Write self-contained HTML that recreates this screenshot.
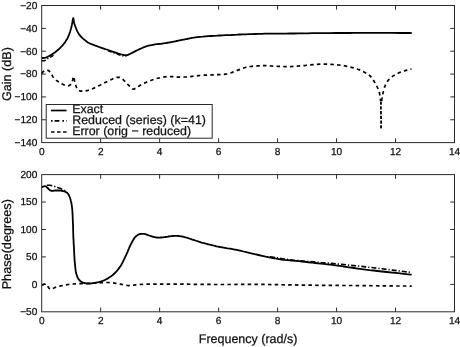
<!DOCTYPE html>
<html><head><meta charset="utf-8"><title>Bode plot</title>
<style>html,body{margin:0;padding:0;background:#fff}svg{display:block}</style></head>
<body>
<svg width="460" height="347" viewBox="0 0 460 347">
<rect width="460" height="347" fill="#fff"/>
<g font-family="'Liberation Sans', Arial, sans-serif" fill="#111" stroke="#111" stroke-width="0.25" text-rendering="geometricPrecision">
<rect x="41.7" y="5.5" width="412.8" height="137.1" fill="none" stroke="#2a2a2a" stroke-width="1"/>
<text x="37.3" y="8.8" font-size="10.1" text-anchor="end">−20</text>
<path d="M41.7,28.35h4.2M454.5,28.35h-4.2" stroke="#2a2a2a" stroke-width="1" fill="none"/>
<text x="37.3" y="31.6" font-size="10.1" text-anchor="end">−40</text>
<path d="M41.7,51.20h4.2M454.5,51.20h-4.2" stroke="#2a2a2a" stroke-width="1" fill="none"/>
<text x="37.3" y="54.5" font-size="10.1" text-anchor="end">−60</text>
<path d="M41.7,74.05h4.2M454.5,74.05h-4.2" stroke="#2a2a2a" stroke-width="1" fill="none"/>
<text x="37.3" y="77.3" font-size="10.1" text-anchor="end">−80</text>
<path d="M41.7,96.90h4.2M454.5,96.90h-4.2" stroke="#2a2a2a" stroke-width="1" fill="none"/>
<text x="37.3" y="100.2" font-size="10.1" text-anchor="end">−100</text>
<path d="M41.7,119.75h4.2M454.5,119.75h-4.2" stroke="#2a2a2a" stroke-width="1" fill="none"/>
<text x="37.3" y="123.0" font-size="10.1" text-anchor="end">−120</text>
<text x="37.3" y="145.9" font-size="10.1" text-anchor="end">−140</text>
<text x="41.7" y="155.0" font-size="10.1" text-anchor="middle">0</text>
<path d="M100.67,5.5v4.2M100.67,142.6v-4.2" stroke="#2a2a2a" stroke-width="1" fill="none"/>
<text x="100.7" y="155.0" font-size="10.1" text-anchor="middle">2</text>
<path d="M159.64,5.5v4.2M159.64,142.6v-4.2" stroke="#2a2a2a" stroke-width="1" fill="none"/>
<text x="159.6" y="155.0" font-size="10.1" text-anchor="middle">4</text>
<path d="M218.61,5.5v4.2M218.61,142.6v-4.2" stroke="#2a2a2a" stroke-width="1" fill="none"/>
<text x="218.6" y="155.0" font-size="10.1" text-anchor="middle">6</text>
<path d="M277.59,5.5v4.2M277.59,142.6v-4.2" stroke="#2a2a2a" stroke-width="1" fill="none"/>
<text x="277.6" y="155.0" font-size="10.1" text-anchor="middle">8</text>
<path d="M336.56,5.5v4.2M336.56,142.6v-4.2" stroke="#2a2a2a" stroke-width="1" fill="none"/>
<text x="336.6" y="155.0" font-size="10.1" text-anchor="middle">10</text>
<path d="M395.53,5.5v4.2M395.53,142.6v-4.2" stroke="#2a2a2a" stroke-width="1" fill="none"/>
<text x="395.5" y="155.0" font-size="10.1" text-anchor="middle">12</text>
<text x="454.5" y="155.0" font-size="10.1" text-anchor="middle">14</text>
<rect x="41.7" y="174.6" width="412.8" height="137.20000000000002" fill="none" stroke="#2a2a2a" stroke-width="1"/>
<text x="37.3" y="177.9" font-size="10.1" text-anchor="end">200</text>
<path d="M41.7,202.04h4.2M454.5,202.04h-4.2" stroke="#2a2a2a" stroke-width="1" fill="none"/>
<text x="37.3" y="205.3" font-size="10.1" text-anchor="end">150</text>
<path d="M41.7,229.48h4.2M454.5,229.48h-4.2" stroke="#2a2a2a" stroke-width="1" fill="none"/>
<text x="37.3" y="232.8" font-size="10.1" text-anchor="end">100</text>
<path d="M41.7,256.92h4.2M454.5,256.92h-4.2" stroke="#2a2a2a" stroke-width="1" fill="none"/>
<text x="37.3" y="260.2" font-size="10.1" text-anchor="end">50</text>
<path d="M41.7,284.36h4.2M454.5,284.36h-4.2" stroke="#2a2a2a" stroke-width="1" fill="none"/>
<text x="37.3" y="287.7" font-size="10.1" text-anchor="end">0</text>
<text x="37.3" y="315.1" font-size="10.1" text-anchor="end">−50</text>
<text x="41.7" y="324.1" font-size="10.1" text-anchor="middle">0</text>
<path d="M100.67,174.6v4.2M100.67,311.8v-4.2" stroke="#2a2a2a" stroke-width="1" fill="none"/>
<text x="100.7" y="324.1" font-size="10.1" text-anchor="middle">2</text>
<path d="M159.64,174.6v4.2M159.64,311.8v-4.2" stroke="#2a2a2a" stroke-width="1" fill="none"/>
<text x="159.6" y="324.1" font-size="10.1" text-anchor="middle">4</text>
<path d="M218.61,174.6v4.2M218.61,311.8v-4.2" stroke="#2a2a2a" stroke-width="1" fill="none"/>
<text x="218.6" y="324.1" font-size="10.1" text-anchor="middle">6</text>
<path d="M277.59,174.6v4.2M277.59,311.8v-4.2" stroke="#2a2a2a" stroke-width="1" fill="none"/>
<text x="277.6" y="324.1" font-size="10.1" text-anchor="middle">8</text>
<path d="M336.56,174.6v4.2M336.56,311.8v-4.2" stroke="#2a2a2a" stroke-width="1" fill="none"/>
<text x="336.6" y="324.1" font-size="10.1" text-anchor="middle">10</text>
<path d="M395.53,174.6v4.2M395.53,311.8v-4.2" stroke="#2a2a2a" stroke-width="1" fill="none"/>
<text x="395.5" y="324.1" font-size="10.1" text-anchor="middle">12</text>
<text x="454.5" y="324.1" font-size="10.1" text-anchor="middle">14</text>
<text transform="translate(10.5,74.1) rotate(-90)" font-size="12.6" text-anchor="middle">Gain (dB)</text>
<text transform="translate(10.5,244.2) rotate(-90)" font-size="12.7" text-anchor="middle">Phase(degrees)</text>
<text x="248.1" y="342.7" font-size="12.5" text-anchor="middle">Frequency (rad/s)</text>
</g>
<g fill="none" stroke="#000" stroke-linejoin="round">
<path d="M41.8,60.8 L42.1,60.8 L42.5,60.8 L42.9,60.8 L43.5,60.8 L44.0,60.7 L44.5,60.6 L45.0,60.4 L45.5,60.1 L46.1,59.7 L46.7,59.3 L47.2,59.0 L47.8,58.6 L48.4,58.3 L49.0,57.9 L49.6,57.6 L50.2,57.3 L50.8,56.9 L51.3,56.6 L51.8,56.3 L52.4,55.9 L52.9,55.6 L53.3,55.3 L53.7,55.0 L54.0,54.8" stroke-width="1.6" stroke-dasharray="4 2 1.2 2"/>
<path d="M108.0,50.7 L108.9,51.0 L110.1,51.5 L111.6,52.1 L113.1,52.6 L114.6,53.2 L116.0,53.7 L117.3,54.1 L118.5,54.6 L119.8,55.0 L121.0,55.3 L122.0,55.7 L123.0,55.9 L123.8,56.1 L124.6,56.2 L125.2,56.2 L125.7,56.2 L126.2,56.2 L126.5,56.2" stroke-width="1.5" stroke-dasharray="4 2 1.2 2"/>
<path d="M41.8,58.1 L42.1,58.1 L42.6,58.0 L43.2,58.0 L43.8,57.9 L44.4,57.9 L44.9,57.8 L45.3,57.7 L45.7,57.6 L46.1,57.5 L46.5,57.3 L46.8,57.2 L47.2,57.0 L47.6,56.8 L47.9,56.6 L48.3,56.5 L48.7,56.3 L49.1,56.0 L49.5,55.8 L49.9,55.5 L50.4,55.3 L50.9,55.0 L51.4,54.7 L51.9,54.4 L52.4,54.1 L52.9,53.8 L53.4,53.5 L53.8,53.1 L54.3,52.8 L54.8,52.5 L55.3,52.1 L55.8,51.7 L56.3,51.3 L56.8,50.9 L57.2,50.5 L57.7,50.1 L58.2,49.7 L58.7,49.3 L59.2,48.8 L59.6,48.4 L60.1,47.9 L60.6,47.5 L61.0,47.0 L61.4,46.5 L61.9,46.1 L62.3,45.6 L62.7,45.2 L63.1,44.7 L63.5,44.2 L63.9,43.7 L64.3,43.1 L64.7,42.6 L65.1,42.1 L65.5,41.5 L65.8,41.0 L66.1,40.5 L66.4,40.1 L66.7,39.6 L67.0,39.2 L67.2,38.7 L67.5,38.2 L67.8,37.6 L68.1,36.9 L68.4,36.2 L68.7,35.5 L69.0,34.8 L69.2,34.2 L69.4,33.6 L69.6,33.1 L69.8,32.6 L69.9,32.1 L70.1,31.6 L70.3,31.0 L70.5,30.3 L70.7,29.6 L70.9,28.9 L71.1,28.1 L71.3,27.3 L71.5,26.6 L71.7,25.9 L71.8,25.1 L72.0,24.4 L72.1,23.6 L72.3,22.9 L72.4,22.2 L72.5,21.4 L72.7,20.5 L72.8,19.6 L72.9,18.8 L73.1,18.3 L73.2,18.1 L73.3,18.4 L73.5,19.1 L73.7,20.0 L73.8,21.1 L74.0,22.1 L74.2,23.0 L74.4,23.8 L74.7,24.5 L74.9,25.3 L75.2,26.0 L75.4,26.7 L75.7,27.4 L75.9,28.0 L76.2,28.7 L76.4,29.3 L76.7,29.9 L76.9,30.4 L77.2,31.0 L77.5,31.6 L77.8,32.1 L78.1,32.7 L78.4,33.2 L78.7,33.7 L79.1,34.3 L79.5,34.9 L80.0,35.5 L80.5,36.0 L81.0,36.6 L81.5,37.2 L82.0,37.7 L82.5,38.2 L83.0,38.7 L83.6,39.1 L84.1,39.5 L84.7,40.0 L85.2,40.4 L85.7,40.8 L86.3,41.3 L86.8,41.7 L87.4,42.1 L87.9,42.4 L88.5,42.8 L89.0,43.1 L89.5,43.3 L90.0,43.5 L90.6,43.8 L91.3,44.0 L92.2,44.4 L93.4,44.8 L94.7,45.4 L96.2,45.9 L97.8,46.5 L99.4,47.1 L100.9,47.6 L102.4,48.1 L103.8,48.6 L105.2,49.1 L106.7,49.5 L108.2,50.0 L109.6,50.5 L111.1,51.0 L112.6,51.6 L114.2,52.1 L115.7,52.6 L117.1,53.1 L118.3,53.5 L119.3,53.8 L120.2,54.1 L121.0,54.3 L121.7,54.5 L122.3,54.7 L123.0,54.8 L123.7,54.9 L124.3,55.1 L124.9,55.1 L125.4,55.2 L126.0,55.2 L126.5,55.2 L127.0,55.1 L127.5,55.0 L128.0,54.8 L128.5,54.6 L129.0,54.4 L129.5,54.2 L130.0,54.0 L130.4,53.8 L130.8,53.6 L131.3,53.3 L131.9,53.0 L132.6,52.6 L133.5,52.1 L134.6,51.6 L135.8,50.9 L137.1,50.3 L138.3,49.7 L139.6,49.1 L140.9,48.5 L142.1,48.0 L143.4,47.4 L144.8,46.9 L146.1,46.4 L147.4,46.0 L148.7,45.6 L150.0,45.3 L151.4,45.1 L152.7,44.8 L153.9,44.6 L155.2,44.4 L156.4,44.2 L157.5,44.1 L158.6,44.0 L159.8,43.9 L160.9,43.8 L162.2,43.6 L163.6,43.4 L165.0,43.2 L166.4,43.0 L167.9,42.7 L169.4,42.5 L170.9,42.2 L172.4,41.9 L173.8,41.6 L175.3,41.3 L176.8,41.0 L178.2,40.7 L179.6,40.4 L180.9,40.1 L182.1,39.9 L183.3,39.7 L184.5,39.5 L185.7,39.2 L187.0,39.0 L188.3,38.7 L189.5,38.5 L190.7,38.2 L192.0,37.9 L193.6,37.7 L195.4,37.4 L197.6,37.1 L200.0,36.9 L202.7,36.7 L205.5,36.4 L208.3,36.2 L211.1,36.0 L213.9,35.8 L216.8,35.7 L219.7,35.5 L222.6,35.4 L225.6,35.2 L228.5,35.1 L231.4,35.0 L234.2,34.8 L237.1,34.7 L240.0,34.5 L242.9,34.4 L245.9,34.3 L249.0,34.2 L252.1,34.1 L255.2,34.0 L258.4,33.9 L261.7,33.8 L265.0,33.7 L268.3,33.7 L271.7,33.6 L275.1,33.6 L278.6,33.6 L282.2,33.6 L286.0,33.6 L290.0,33.5 L294.2,33.5 L298.6,33.4 L303.0,33.3 L307.5,33.3 L312.0,33.2 L316.5,33.2 L321.1,33.1 L325.8,33.1 L330.4,33.1 L335.2,33.0 L340.0,33.0 L344.7,33.0 L349.4,33.0 L354.1,32.9 L359.1,32.9 L364.3,32.9 L370.0,32.9 L376.8,32.9 L384.6,32.9 L392.7,32.9 L400.5,33.0 L407.0,33.0 L411.7,33.0" stroke-width="1.8"/>
<path d="M41.8,73.5 L42.0,73.3 L42.2,72.9 L42.4,72.6 L42.7,72.2 L43.0,71.8 L43.3,71.5 L43.6,71.3 L43.8,71.1 L44.1,70.9 L44.4,70.8 L44.7,70.7 L45.0,70.6 L45.4,70.5 L45.8,70.4 L46.2,70.3 L46.7,70.3 L47.1,70.3 L47.5,70.3 L47.8,70.4 L48.1,70.4 L48.4,70.6 L48.7,70.7 L49.0,70.9 L49.3,71.2 L49.6,71.5 L49.9,72.0 L50.2,72.4 L50.5,72.9 L50.8,73.5 L51.2,74.0 L51.6,74.6 L52.0,75.2 L52.4,75.9 L52.8,76.6 L53.2,77.2 L53.7,77.8 L54.2,78.4 L54.7,78.9 L55.3,79.4 L55.8,79.9 L56.4,80.4 L57.0,80.8 L57.6,81.2 L58.2,81.6 L58.8,82.0 L59.4,82.3 L60.0,82.7 L60.6,83.0 L61.2,83.3 L61.7,83.7 L62.2,84.0 L62.8,84.3 L63.3,84.6 L63.8,84.8 L64.3,85.0 L64.8,85.2 L65.3,85.4 L65.8,85.5 L66.3,85.6 L66.7,85.7 L67.1,85.8 L67.5,85.8 L67.9,85.8 L68.3,85.8 L68.6,85.7 L69.0,85.6 L69.4,85.4 L69.7,85.2 L70.0,85.0 L70.4,84.7 L70.7,84.3 L71.0,83.9 L71.3,83.4 L71.6,82.9 L71.8,82.3 L72.1,81.7 L72.3,81.1 L72.5,80.5 L72.7,79.8 L72.9,79.0 L73.0,78.1 L73.2,77.3 L73.4,76.8 L73.5,76.5 L73.6,76.6 L73.8,76.9 L73.9,77.5 L74.0,78.1 L74.2,78.8 L74.3,79.5 L74.5,80.2 L74.6,80.9 L74.8,81.7 L75.0,82.5 L75.2,83.2 L75.4,83.9 L75.6,84.5 L75.8,85.1 L75.9,85.7 L76.1,86.2 L76.3,86.7 L76.5,87.2 L76.7,87.7 L77.0,88.1 L77.2,88.6 L77.4,89.0 L77.7,89.4 L78.0,89.7 L78.3,90.0 L78.6,90.2 L79.0,90.4 L79.3,90.6 L79.6,90.8 L80.0,90.9 L80.3,91.0 L80.7,91.1 L81.0,91.2 L81.4,91.2 L81.8,91.2 L82.3,91.2 L82.8,91.2 L83.4,91.1 L84.0,91.1 L84.7,91.0 L85.3,90.9 L86.0,90.8 L86.6,90.7 L87.2,90.6 L87.8,90.5 L88.4,90.3 L89.2,90.1 L90.2,89.7 L91.4,89.2 L92.8,88.6 L94.3,87.9 L95.8,87.2 L97.4,86.4 L98.9,85.7 L100.4,85.0 L102.0,84.2 L103.5,83.4 L105.0,82.6 L106.4,81.9 L107.6,81.3 L108.6,80.8 L109.4,80.4 L110.1,80.1 L110.8,79.8 L111.4,79.5 L112.0,79.2 L112.6,78.9 L113.2,78.6 L113.8,78.4 L114.4,78.2 L114.9,78.0 L115.5,77.8 L116.1,77.6 L116.6,77.5 L117.1,77.4 L117.7,77.3 L118.2,77.3 L118.7,77.3 L119.2,77.4 L119.7,77.4 L120.2,77.6 L120.6,77.8 L121.1,78.0 L121.5,78.2 L121.9,78.5 L122.3,78.8 L122.7,79.2 L123.1,79.6 L123.5,80.0 L123.9,80.4 L124.3,80.8 L124.8,81.2 L125.2,81.7 L125.6,82.1 L126.1,82.6 L126.5,83.0 L126.9,83.4 L127.4,83.9 L127.8,84.4 L128.2,84.8 L128.7,85.3 L129.1,85.7 L129.5,86.1 L129.9,86.5 L130.3,87.0 L130.7,87.3 L131.1,87.7 L131.5,88.0 L131.8,88.3 L132.2,88.5 L132.5,88.8 L132.8,89.0 L133.1,89.1 L133.5,89.1 L133.9,89.0 L134.4,88.9 L134.9,88.6 L135.5,88.4 L136.0,88.1 L136.5,87.8 L137.0,87.5 L137.4,87.2 L137.8,86.9 L138.2,86.6 L138.8,86.2 L139.6,85.7 L140.6,85.1 L141.9,84.5 L143.2,83.8 L144.6,83.1 L146.0,82.4 L147.4,81.8 L148.7,81.3 L150.0,80.7 L151.4,80.3 L152.7,79.8 L153.9,79.4 L155.2,79.0 L156.4,78.6 L157.6,78.3 L158.8,78.0 L159.9,77.8 L161.0,77.5 L162.2,77.3 L163.3,77.1 L164.4,76.9 L165.4,76.8 L166.5,76.7 L167.7,76.6 L169.1,76.6 L170.6,76.6 L172.3,76.7 L174.1,76.8 L176.0,77.0 L177.8,77.1 L179.6,77.1 L181.3,77.1 L183.0,77.0 L184.7,77.0 L186.4,76.9 L188.2,76.7 L190.0,76.6 L192.0,76.4 L194.1,76.2 L196.2,75.9 L198.4,75.7 L200.5,75.5 L202.4,75.3 L204.2,75.2 L205.9,75.1 L207.5,75.0 L209.0,75.0 L210.5,75.0 L212.0,74.9 L213.4,74.9 L214.7,74.8 L216.0,74.8 L217.2,74.7 L218.5,74.7 L219.8,74.6 L221.2,74.5 L222.6,74.4 L224.1,74.3 L225.6,74.1 L227.0,73.9 L228.5,73.6 L229.9,73.2 L231.4,72.7 L232.8,72.1 L234.3,71.5 L235.8,71.0 L237.2,70.4 L238.6,69.9 L240.1,69.3 L241.5,68.7 L243.0,68.2 L244.4,67.7 L245.9,67.3 L247.3,67.0 L248.7,66.7 L250.1,66.5 L251.6,66.4 L253.1,66.2 L254.6,66.1 L256.2,66.0 L257.9,65.9 L259.6,65.8 L261.3,65.7 L263.1,65.7 L265.0,65.7 L267.0,65.7 L269.0,65.8 L271.1,66.0 L273.2,66.1 L275.3,66.2 L277.4,66.3 L279.4,66.4 L281.4,66.5 L283.4,66.5 L285.4,66.6 L287.5,66.6 L289.6,66.6 L291.8,66.5 L294.1,66.4 L296.4,66.2 L298.8,66.0 L301.2,65.8 L303.5,65.6 L305.8,65.4 L308.2,65.1 L310.6,64.9 L312.9,64.6 L315.2,64.4 L317.4,64.3 L319.6,64.2 L321.7,64.2 L323.7,64.2 L325.7,64.2 L327.7,64.2 L329.6,64.3 L331.5,64.4 L333.4,64.5 L335.2,64.7 L336.9,64.9 L338.5,65.0 L340.0,65.2 L341.2,65.3 L342.2,65.4 L343.0,65.5 L343.8,65.7 L344.8,65.8 L346.0,66.1 L347.6,66.5 L349.4,66.9 L351.4,67.4 L353.4,67.9 L355.2,68.5 L356.7,68.9 L357.9,69.3 L358.9,69.6 L359.7,69.9 L360.4,70.3 L361.2,70.6 L362.0,71.0 L362.9,71.4 L363.9,71.9 L364.9,72.4 L365.9,73.0 L366.8,73.5 L367.6,74.0 L368.3,74.5 L368.9,74.9 L369.5,75.4 L370.0,75.8 L370.6,76.4 L371.2,77.1 L371.9,77.9 L372.5,78.9 L373.2,79.9 L373.9,81.0 L374.6,82.1 L375.2,83.1 L375.8,84.1 L376.3,85.1 L376.8,86.1 L377.3,87.2 L377.8,88.2 L378.2,89.2 L378.6,90.2 L378.9,91.2 L379.2,92.2 L379.5,93.2 L379.7,94.2 L379.9,95.2 L380.1,96.2 L380.2,97.4 L380.4,98.5 L380.5,99.5 L380.5,100.4 L380.6,101.0" stroke-width="1.7" stroke-dasharray="3.5 3.25"/>
<path d="M381.6,101.0 L381.7,100.5 L381.8,99.8 L381.9,99.0 L382.0,98.1 L382.1,97.1 L382.3,96.2 L382.5,95.3 L382.7,94.3 L382.9,93.3 L383.1,92.3 L383.4,91.3 L383.7,90.2 L384.0,89.1 L384.4,87.8 L384.8,86.6 L385.3,85.4 L385.8,84.2 L386.3,83.1 L386.9,82.1 L387.5,81.2 L388.1,80.4 L388.8,79.6 L389.5,78.9 L390.3,78.1 L391.2,77.3 L392.2,76.6 L393.2,75.9 L394.3,75.2 L395.3,74.6 L396.4,74.0 L397.4,73.5 L398.5,73.0 L399.5,72.5 L400.6,72.1 L401.8,71.7 L403.0,71.3 L404.4,70.9 L406.0,70.4 L407.7,70.0 L409.2,69.6 L410.6,69.2 L411.5,69.0" stroke-width="1.7" stroke-dasharray="3.5 3.25"/>
<path d="M381,101.5C380.6,110 381.4,118 381,128.4" stroke-width="1.8" stroke-dasharray="3.3 1.5"/>
<path d="M41.8,187.4 L42.0,187.3 L42.2,187.1 L42.5,186.9 L42.8,186.7 L43.2,186.5 L43.5,186.3 L43.8,186.1 L44.2,186.0 L44.6,185.8 L45.0,185.7 L45.4,185.6 L45.8,185.5 L46.2,185.4 L46.7,185.4 L47.1,185.3 L47.6,185.3 L48.1,185.3 L48.5,185.3 L48.9,185.3 L49.3,185.3 L49.6,185.3 L50.0,185.3 L50.5,185.4 L51.0,185.5 L51.6,185.6 L52.3,185.8 L53.0,186.0 L53.8,186.2 L54.6,186.4 L55.4,186.7 L56.2,187.0 L57.1,187.3 L57.9,187.6 L58.8,187.9 L59.7,188.2 L60.6,188.6 L61.5,189.0 L62.5,189.5 L63.5,190.0 L64.4,190.4 L65.2,190.9 L65.8,191.2 L66.2,191.5 L66.5,191.7 L66.7,191.9 L66.8,192.0 L66.9,192.1 L67.0,192.2" stroke-width="1.6" stroke-dasharray="0 5.6 5.4 2 1.3 2 5.4 2 1.3 2"/>
<path d="M270.0,256.7 L272.2,257.0 L275.2,257.5 L278.8,258.1 L282.6,258.7 L286.4,259.2 L290.0,259.7 L293.3,260.1 L296.5,260.4 L299.8,260.7 L303.0,261.0 L306.4,261.3 L310.0,261.6 L313.8,261.9 L317.7,262.2 L321.7,262.6 L325.8,262.9 L329.9,263.2 L333.9,263.6 L337.9,264.0 L341.9,264.4 L345.8,264.8 L349.8,265.2 L353.8,265.6 L357.8,266.0 L361.7,266.4 L365.6,266.9 L369.4,267.3 L373.4,267.8 L377.5,268.3 L381.8,268.8 L386.8,269.4 L392.4,270.1 L398.2,270.8 L403.7,271.5 L408.4,272.1 L411.7,272.5" stroke-width="1.6" stroke-dasharray="5 2 1.2 2"/>
<path d="M41.8,187.4 L42.0,187.3 L42.2,187.1 L42.6,187.0 L42.9,186.8 L43.2,186.6 L43.5,186.5 L43.8,186.4 L44.0,186.3 L44.3,186.3 L44.5,186.2 L44.8,186.2 L45.0,186.2 L45.2,186.2 L45.4,186.3 L45.7,186.4 L45.9,186.5 L46.1,186.7 L46.3,186.8 L46.5,186.9 L46.7,187.1 L46.9,187.3 L47.1,187.5 L47.4,187.7 L47.6,187.9 L47.9,188.2 L48.1,188.5 L48.4,188.8 L48.7,189.1 L49.0,189.4 L49.3,189.7 L49.6,189.9 L49.9,190.1 L50.1,190.3 L50.4,190.5 L50.7,190.6 L51.0,190.7 L51.3,190.8 L51.6,190.8 L52.0,190.8 L52.3,190.8 L52.6,190.8 L53.0,190.8 L53.4,190.8 L53.7,190.7 L54.1,190.7 L54.5,190.6 L55.0,190.5 L55.4,190.5 L55.9,190.5 L56.4,190.5 L56.9,190.5 L57.4,190.5 L57.9,190.5 L58.5,190.5 L59.1,190.5 L59.8,190.6 L60.4,190.7 L61.1,190.7 L61.7,190.8 L62.3,190.9 L62.8,191.0 L63.2,191.1 L63.6,191.2 L64.0,191.3 L64.3,191.4 L64.7,191.5 L65.1,191.7 L65.4,191.8 L65.8,192.0 L66.1,192.2 L66.4,192.4 L66.7,192.6 L67.0,192.8 L67.3,193.0 L67.5,193.2 L67.7,193.5 L68.0,193.7 L68.2,194.0 L68.4,194.3 L68.6,194.6 L68.8,195.0 L69.0,195.4 L69.1,195.7 L69.3,196.1 L69.5,196.5 L69.6,196.8 L69.8,197.2 L69.9,197.6 L70.1,198.0 L70.2,198.4 L70.3,198.8 L70.5,199.3 L70.6,199.8 L70.7,200.3 L70.9,200.8 L71.0,201.3 L71.1,201.9 L71.2,202.4 L71.4,203.0 L71.5,203.6 L71.6,204.3 L71.7,205.0 L71.8,205.7 L71.9,206.4 L72.0,207.1 L72.1,207.9 L72.2,208.8 L72.3,210.0 L72.4,211.5 L72.5,213.2 L72.6,215.0 L72.7,216.9 L72.7,218.8 L72.8,220.4 L72.9,221.8 L72.9,223.1 L73.0,224.2 L73.0,225.4 L73.1,226.6 L73.1,228.0 L73.1,229.5 L73.2,231.2 L73.2,232.9 L73.3,234.7 L73.3,236.4 L73.4,238.0 L73.5,239.6 L73.6,241.1 L73.6,242.6 L73.7,244.1 L73.8,245.5 L73.9,247.0 L74.0,248.4 L74.0,249.9 L74.1,251.3 L74.2,252.7 L74.2,254.1 L74.3,255.4 L74.4,256.7 L74.5,257.9 L74.5,259.1 L74.6,260.3 L74.7,261.4 L74.8,262.5 L74.9,263.6 L75.0,264.6 L75.1,265.7 L75.2,266.7 L75.3,267.6 L75.4,268.5 L75.5,269.3 L75.6,270.1 L75.7,270.8 L75.8,271.5 L76.0,272.2 L76.1,272.8 L76.2,273.4 L76.4,274.0 L76.6,274.5 L76.7,275.1 L76.9,275.6 L77.1,276.1 L77.3,276.6 L77.5,277.1 L77.7,277.6 L78.0,278.1 L78.2,278.6 L78.5,279.0 L78.8,279.4 L79.1,279.8 L79.4,280.1 L79.7,280.5 L80.0,280.8 L80.4,281.1 L80.8,281.4 L81.2,281.7 L81.6,281.9 L82.1,282.2 L82.5,282.4 L83.0,282.6 L83.5,282.8 L83.9,282.9 L84.4,283.0 L84.8,283.1 L85.3,283.2 L85.8,283.3 L86.3,283.4 L86.8,283.4 L87.4,283.5 L87.9,283.5 L88.5,283.5 L89.0,283.5 L89.5,283.5 L90.1,283.5 L90.6,283.5 L91.1,283.4 L91.7,283.4 L92.3,283.3 L92.9,283.2 L93.6,283.1 L94.3,283.0 L95.0,282.9 L95.8,282.7 L96.5,282.6 L97.2,282.4 L98.0,282.3 L98.7,282.1 L99.5,281.9 L100.2,281.7 L101.0,281.5 L101.8,281.2 L102.5,281.0 L103.3,280.7 L104.0,280.4 L104.8,280.0 L105.5,279.7 L106.2,279.3 L107.0,278.9 L107.7,278.5 L108.4,278.1 L109.1,277.6 L109.7,277.2 L110.3,276.8 L110.9,276.4 L111.4,276.0 L111.9,275.6 L112.5,275.2 L113.0,274.8 L113.5,274.3 L114.1,273.8 L114.6,273.3 L115.2,272.8 L115.7,272.2 L116.2,271.7 L116.7,271.1 L117.2,270.6 L117.6,270.0 L118.1,269.4 L118.5,268.8 L119.0,268.2 L119.5,267.6 L119.9,266.9 L120.4,266.3 L120.8,265.6 L121.3,264.9 L121.7,264.1 L122.1,263.3 L122.6,262.4 L123.0,261.6 L123.4,260.7 L123.9,259.7 L124.3,258.8 L124.8,257.8 L125.2,256.9 L125.7,255.9 L126.2,254.8 L126.6,253.8 L127.1,252.8 L127.6,251.8 L128.0,250.7 L128.4,249.6 L128.9,248.6 L129.3,247.5 L129.8,246.5 L130.3,245.5 L130.7,244.6 L131.2,243.6 L131.7,242.7 L132.1,241.8 L132.6,241.0 L133.0,240.2 L133.5,239.5 L133.9,238.8 L134.3,238.1 L134.8,237.5 L135.2,237.0 L135.7,236.5 L136.1,236.1 L136.6,235.7 L137.1,235.4 L137.5,235.1 L138.0,234.8 L138.5,234.6 L138.9,234.4 L139.4,234.2 L139.8,234.1 L140.3,234.0 L140.7,233.9 L141.1,233.8 L141.5,233.8 L141.9,233.8 L142.3,233.8 L142.6,233.8 L143.0,233.8 L143.3,233.8 L143.7,233.8 L144.0,233.9 L144.3,233.9 L144.6,234.0 L145.0,234.1 L145.4,234.2 L145.9,234.4 L146.4,234.5 L146.9,234.7 L147.5,234.9 L148.0,235.1 L148.6,235.3 L149.1,235.5 L149.7,235.7 L150.3,235.9 L150.9,236.1 L151.5,236.3 L152.1,236.5 L152.7,236.6 L153.3,236.8 L153.9,236.9 L154.4,237.1 L155.0,237.2 L155.5,237.3 L156.0,237.4 L156.5,237.5 L156.9,237.5 L157.4,237.6 L158.0,237.6 L158.6,237.6 L159.3,237.6 L160.0,237.6 L160.7,237.5 L161.3,237.5 L162.0,237.4 L162.6,237.3 L163.2,237.3 L163.8,237.2 L164.4,237.2 L165.1,237.1 L165.7,237.0 L166.4,236.9 L167.1,236.8 L167.8,236.6 L168.5,236.5 L169.3,236.4 L170.0,236.3 L170.7,236.2 L171.4,236.1 L172.2,236.1 L172.9,236.0 L173.6,235.9 L174.3,235.9 L175.0,235.9 L175.7,235.9 L176.4,235.9 L177.1,235.9 L177.8,235.9 L178.5,236.0 L179.2,236.1 L180.0,236.2 L180.7,236.3 L181.5,236.4 L182.2,236.5 L183.0,236.7 L183.8,236.9 L184.5,237.1 L185.3,237.3 L186.0,237.5 L186.8,237.7 L187.5,237.9 L188.1,238.1 L188.7,238.3 L189.2,238.5 L189.8,238.7 L190.6,238.9 L191.7,239.3 L193.2,239.8 L194.9,240.4 L196.9,241.0 L198.9,241.7 L200.8,242.3 L202.6,242.8 L204.2,243.2 L205.7,243.6 L207.1,244.0 L208.5,244.3 L209.9,244.7 L211.3,245.0 L212.7,245.3 L213.9,245.6 L215.2,246.0 L216.5,246.3 L218.1,246.6 L220.0,247.0 L222.3,247.4 L224.8,247.8 L227.5,248.3 L230.5,248.7 L233.5,249.3 L236.7,249.9 L240.0,250.6 L243.6,251.5 L247.3,252.4 L251.1,253.3 L254.8,254.2 L258.5,255.0 L262.1,255.8 L265.7,256.6 L269.3,257.3 L273.0,258.1 L276.6,258.7 L280.2,259.3 L283.9,259.8 L287.8,260.2 L291.6,260.6 L295.4,260.9 L298.9,261.2 L302.0,261.5 L304.6,261.8 L306.8,262.0 L308.7,262.3 L310.6,262.5 L312.6,262.7 L315.0,263.0 L317.8,263.3 L320.7,263.6 L323.8,263.9 L327.0,264.3 L330.4,264.7 L333.9,265.1 L337.6,265.6 L341.5,266.2 L345.5,266.8 L349.6,267.4 L353.8,268.0 L357.8,268.6 L361.7,269.1 L365.6,269.6 L369.4,270.1 L373.4,270.5 L377.5,271.0 L381.8,271.5 L386.8,272.0 L392.4,272.6 L398.2,273.2 L403.7,273.8 L408.4,274.3 L411.7,274.6" stroke-width="1.8"/>
<path d="M42.3,285.4 L42.5,285.3 L42.7,285.1 L42.9,284.9 L43.2,284.6 L43.5,284.4 L43.8,284.3 L44.1,284.2 L44.4,284.1 L44.7,284.1 L45.0,284.1 L45.3,284.1 L45.6,284.1 L45.8,284.2 L46.1,284.3 L46.2,284.4 L46.4,284.6 L46.6,284.8 L46.8,285.0 L47.0,285.2 L47.1,285.4 L47.3,285.7 L47.4,286.0 L47.6,286.2 L47.8,286.5 L48.0,286.8 L48.2,287.1 L48.5,287.4 L48.7,287.8 L49.0,288.1 L49.2,288.3 L49.4,288.5 L49.6,288.7 L49.8,288.9 L50.1,289.0 L50.3,289.1 L50.6,289.1 L50.9,289.1 L51.3,289.0 L51.7,288.9 L52.1,288.7 L52.5,288.6 L53.0,288.4 L53.4,288.2 L53.9,288.0 L54.3,287.8 L54.8,287.6 L55.5,287.3 L56.5,287.0 L57.8,286.7 L59.3,286.3 L60.9,285.9 L62.7,285.5 L64.5,285.1 L66.3,284.8 L68.0,284.5 L69.8,284.3 L71.6,284.1 L73.5,284.0 L75.3,283.8 L77.1,283.7 L78.9,283.6 L80.6,283.6 L82.4,283.6 L84.2,283.6 L86.1,283.6 L88.0,283.5 L90.1,283.4 L92.3,283.3 L94.6,283.1 L96.9,282.9 L99.1,282.8 L101.0,282.7 L102.7,282.6 L104.2,282.6 L105.6,282.5 L107.0,282.5 L108.3,282.5 L109.7,282.6 L111.2,282.7 L112.7,282.9 L114.2,283.1 L115.7,283.3 L117.1,283.5 L118.4,283.7 L119.5,283.9 L120.5,284.1 L121.4,284.3 L122.3,284.5 L123.1,284.7 L124.0,284.9 L124.9,285.1 L125.8,285.2 L126.7,285.3 L127.6,285.5 L128.5,285.6 L129.3,285.6 L130.1,285.6 L130.8,285.6 L131.5,285.5 L132.1,285.4 L132.8,285.3 L133.5,285.2 L134.1,285.1 L134.6,285.0 L135.1,284.9 L135.7,284.8 L136.7,284.7 L138.0,284.6 L139.7,284.5 L141.6,284.4 L143.9,284.3 L146.4,284.2 L149.3,284.1 L152.6,284.1 L156.3,284.1 L160.3,284.1 L164.7,284.1 L169.5,284.1 L174.6,284.2 L180.0,284.2 L185.9,284.2 L192.4,284.3 L199.2,284.4 L206.2,284.4 L213.2,284.5 L220.0,284.5 L226.6,284.5 L233.0,284.5 L239.4,284.4 L245.9,284.4 L252.8,284.4 L260.0,284.4 L267.8,284.5 L275.9,284.6 L284.4,284.8 L293.0,284.9 L301.6,285.1 L310.0,285.2 L318.3,285.3 L326.6,285.4 L334.9,285.4 L343.2,285.5 L351.6,285.5 L360.0,285.6 L369.1,285.7 L379.0,285.8 L389.0,285.9 L398.2,286.0 L406.1,286.0 L411.7,286.1" stroke-width="1.7" stroke-dasharray="3.5 3.25"/>
</g>
<rect x="46.2" y="104.5" width="166" height="33.7" fill="#fff" stroke="#2a2a2a" stroke-width="1"/>
<g fill="none" stroke="#000">
<path d="M51,110.5H66.5" stroke-width="1.7"/>
<path d="M51,120.9H66.5" stroke-width="1.6" stroke-dasharray="1.6 2 4.8 3 1.6 2 1.6 2"/>
<path d="M51.1,132H66.5" stroke-width="1.7" stroke-dasharray="3.4 2.6"/>
</g>
<g font-family="'Liberation Sans', Arial, sans-serif" fill="#111" stroke="#111" stroke-width="0.25" font-size="12.3" text-rendering="geometricPrecision">
<text x="72.2" y="113.4" textLength="31" lengthAdjust="spacingAndGlyphs">Exact</text>
<text x="72.2" y="124" textLength="133.8" lengthAdjust="spacingAndGlyphs">Reduced (series) (k=41)</text>
<text x="72.2" y="134.8" textLength="118.9" lengthAdjust="spacingAndGlyphs">Error (orig − reduced)</text>
</g>
</svg>
</body></html>
